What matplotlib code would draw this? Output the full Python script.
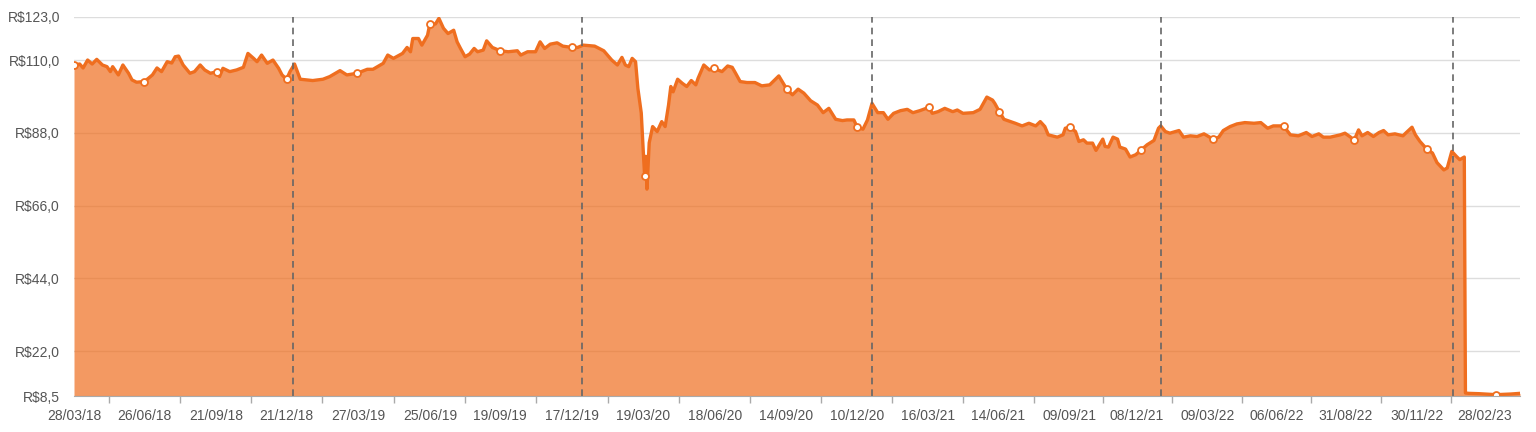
import matplotlib
matplotlib.use("Agg")
from matplotlib import pyplot as plt
import numpy as np

# trading-day index and closing price (R$)
days = [0, 5, 8, 12, 16, 20, 25, 29, 32, 34, 39, 43, 48, 51, 55, 62, 69, 73, 77, 82,
        86, 89, 92, 96, 102, 106, 111, 115, 120, 126, 128, 131, 137, 143, 149, 153, 158, 161, 165, 170,
        175, 180, 183, 187, 190, 194, 199, 205, 210, 219, 225, 234, 240, 249, 258, 263, 272, 276, 281, 289,
        293, 296, 298, 303, 306, 311, 313, 318, 321, 325, 329, 334, 337, 340, 344, 348, 352, 355, 360, 363,
        368, 375, 382, 390, 393, 399, 406, 410, 414, 419, 425, 430, 438, 443, 448, 458, 466, 473, 478, 482,
        485, 488, 491, 494, 496, 499, 501, 502, 503, 504, 506, 509, 513, 517, 520, 523, 525, 527, 531, 535,
        539, 543, 547, 549, 554, 559, 563, 570, 575, 579, 582, 586, 592, 599, 605, 612, 615, 620, 623, 627,
        632, 637, 642, 648, 654, 659, 664, 670, 676, 680, 686, 689, 694, 698, 702, 707, 712, 716, 721, 727,
        733, 738, 744, 752, 755, 760, 766, 773, 777, 782, 791, 797, 803, 808, 810, 814, 818, 824, 828, 834,
        840, 846, 850, 854, 857, 865, 870, 872, 876, 881, 884, 888, 891, 896, 899, 905, 907, 910, 914, 918,
        920, 925, 929, 934, 939, 944, 950, 954, 956, 960, 964, 969, 972, 976, 982, 988, 994, 998, 1002, 1007,
        1011, 1017, 1023, 1030, 1038, 1044, 1050, 1055, 1064, 1070, 1077, 1084, 1089, 1095, 1099, 1105, 1114, 1118, 1123, 1126,
        1130, 1133, 1138, 1143, 1148, 1152, 1156, 1162, 1169, 1172, 1177, 1180, 1184, 1190, 1195, 1199, 1205, 1208, 1212, 1216,
        1219, 1223, 1224, 1227, 1236, 1245, 1251, 1258, 1264, 1272]
prices = [108.5, 108.8, 107.6, 110.0, 108.8, 110.2, 108.5, 108.0, 106.5, 108.0, 105.5, 108.5, 106.0, 104.0, 103.3, 103.5, 105.5, 107.6, 106.5, 109.5,
          109.1, 111.0, 111.2, 108.5, 106.0, 106.5, 108.5, 107.0, 106.0, 106.5, 105.0, 107.5, 106.5, 107.0, 107.8, 112.0, 110.5, 109.5, 111.5, 109.0,
          110.0, 107.5, 105.5, 104.2, 106.5, 108.8, 104.2, 104.0, 103.8, 104.2, 105.0, 106.8, 105.5, 106.0, 107.2, 107.2, 109.0, 111.5, 110.5, 112.0,
          113.8, 112.5, 116.5, 116.5, 114.5, 117.5, 120.9, 120.9, 122.6, 119.6, 118.0, 119.0, 115.5, 113.5, 111.0, 111.8, 113.5, 112.5, 113.0, 115.8,
          113.8, 112.8, 112.5, 112.8, 111.5, 112.5, 112.5, 115.5, 113.5, 114.8, 115.2, 114.2, 113.8, 113.8, 114.5, 114.2, 112.8, 110.0, 108.5, 110.8,
          108.5, 108.0, 110.5, 109.5, 101.5, 94.0, 80.9, 75.0, 80.9, 71.0, 85.0, 89.9, 88.4, 91.4, 89.9, 96.4, 102.0, 100.4, 104.2, 103.0,
          102.0, 103.8, 102.5, 104.5, 108.5, 107.0, 107.5, 106.5, 108.2, 107.8, 106.0, 103.5, 103.2, 103.2, 102.2, 102.5, 103.5, 105.2, 103.5, 101.2,
          99.5, 101.2, 100.0, 97.7, 96.4, 94.1, 95.4, 92.1, 91.7, 91.9, 91.9, 89.7, 89.1, 91.9, 96.9, 94.1, 94.1, 92.1, 93.9, 94.7,
          95.1, 94.1, 94.7, 95.7, 93.9, 94.4, 95.4, 94.4, 94.9, 93.9, 94.1, 95.1, 98.8, 97.9, 96.9, 94.4, 92.1, 91.4, 90.9, 90.1,
          90.9, 90.1, 91.4, 89.9, 87.4, 86.7, 87.4, 89.4, 89.7, 88.4, 85.4, 85.9, 84.9, 84.9, 82.7, 86.1, 83.9, 83.7, 86.7, 86.1,
          83.7, 83.1, 80.7, 81.4, 82.9, 84.4, 85.7, 89.4, 90.1, 88.4, 87.9, 88.4, 88.7, 86.7, 87.1, 86.9, 87.7, 86.9, 86.1, 86.7,
          88.7, 89.9, 90.7, 91.1, 90.9, 91.1, 89.4, 90.1, 90.1, 87.4, 87.1, 88.1, 86.9, 87.7, 86.7, 86.7, 87.4, 87.9, 86.7, 85.7,
          88.9, 87.1, 88.1, 86.9, 88.1, 88.7, 87.4, 87.7, 87.1, 88.1, 89.7, 87.4, 85.4, 83.1, 81.9, 79.0, 76.8, 77.4, 82.4, 80.9,
          79.9, 80.7, 9.4, 9.3, 9.2, 9.0, 8.9, 9.0, 9.1, 9.3]

# highlighted points (white dots)
marker_days = [0, 62, 126, 187, 249, 313, 375, 438, 502, 563, 627, 689, 752, 814, 876, 939, 1002, 1064, 1126, 1190, 1251]

# x tick labels and where they sit (trading-day index)
tick_labels = ["28/03/18", "26/06/18", "21/09/18", "21/12/18", "27/03/19", "25/06/19", "19/09/19",
               "17/12/19", "19/03/20", "18/06/20", "14/09/20", "10/12/20", "16/03/21", "14/06/21",
               "09/09/21", "08/12/21", "09/03/22", "06/06/22", "31/08/22", "30/11/22", "28/02/23"]
tick_days = [0, 62, 125, 187, 250, 313, 375, 438, 501, 564, 626, 689, 751, 813, 876, 935, 997, 1058, 1119, 1181, 1241]

# start of each new year
year_breaks = [193, 447, 702, 956, 1213]

y_ticks = [8.5, 22, 44, 66, 88, 110, 123]

plt.rcParams['font.family'] = ['Liberation Sans', 'DejaVu Sans']
orange = "#ef6e1f"
txt = "#555555"

fig = plt.figure(figsize=(15.36, 4.32), dpi=100)
ax = fig.add_axes([74 / 1536, 1 - 396 / 432, (1520 - 74) / 1536, (396 - 17) / 432])

ax.set_ylim(8.5, 123)
ax.set_xlim(days[0], days[-1])
ax.set_yticks(y_ticks)
ax.set_yticklabels(["R$" + f"{v:.1f}".replace(".", ",") for v in y_ticks], color=txt, fontsize=10)
ax.grid(axis='y', color="#dddddd", linewidth=1)
ax.set_axisbelow(True)

ax.fill_between(days, prices, 8.5, color=orange, alpha=0.7, linewidth=0, zorder=2)
ax.plot(days, prices, color=orange, linewidth=2.4, zorder=3, solid_joinstyle='round')
mk = [prices[days.index(d)] for d in marker_days]
ax.plot(marker_days, mk, 'o', markersize=5, markerfacecolor='white', markeredgecolor=orange,
        markeredgewidth=1.3, linestyle='none', zorder=4)

for d in year_breaks:
    ax.axvline(d, color="#666666", linestyle=(0, (4, 3)), linewidth=1.2, zorder=5)

ax.set_xticks(tick_days)
ax.set_xticklabels(tick_labels, color=txt, fontsize=10)
ax.tick_params(axis='x', which='major', length=0, pad=9)
mids = [(a + b) / 2 for a, b in zip(tick_days[:-1], tick_days[1:])]
ax.set_xticks(mids, minor=True)
ax.tick_params(axis='x', which='minor', length=5, color="#aaaaaa", width=1)
ax.tick_params(axis='y', length=0, pad=10)

for s in ['top', 'right', 'left']:
    ax.spines[s].set_visible(False)
ax.spines['bottom'].set_color("#aaaaaa")
ax.spines['bottom'].set_zorder(6)

fig.savefig("out.png", dpi=100)
